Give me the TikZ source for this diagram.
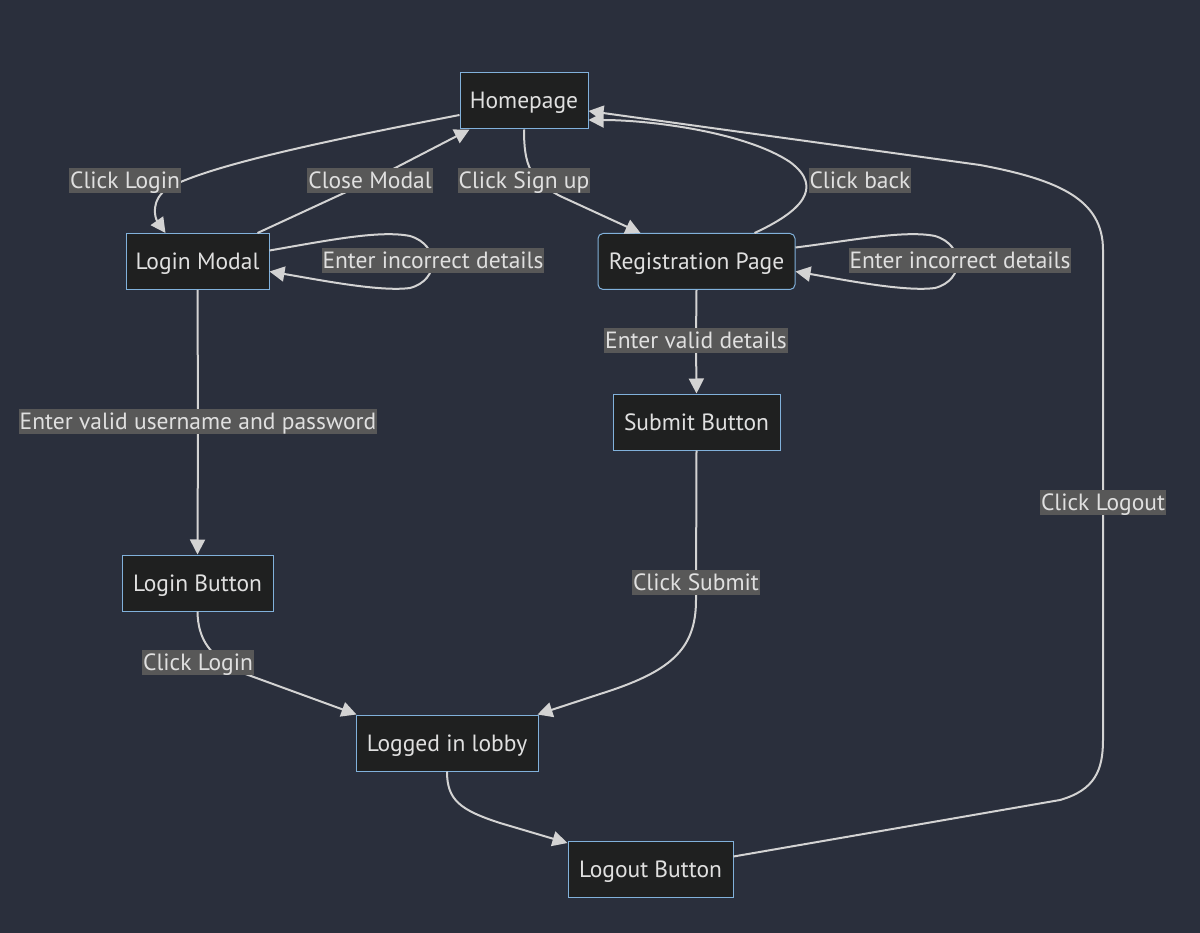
\documentclass[tikz,border=0pt]{standalone}
\usepackage{fontspec}
\setmainfont{PT Sans}
\usetikzlibrary{arrows.meta,calc}
\definecolor{bgc}{HTML}{2A2F3C}
\definecolor{nodefill}{HTML}{1F2020}
\definecolor{nodeborder}{HTML}{81B1DB}
\definecolor{txt}{HTML}{E0E0E0}
\definecolor{lblbg}{HTML}{585858}
\definecolor{linec}{HTML}{D3D3D3}
\tikzset{
  box/.style={draw=nodeborder, fill=nodefill, line width=1pt, minimum height=56pt, inner xsep=8pt, text height=19pt, text depth=3pt, text=txt, font=\fontsize{23.5}{28}\selectfont},
  rbox/.style={box, rounded corners=5pt},
  lbl/.style={fill=lblbg, text=txt, inner xsep=1pt, inner ysep=1.5pt, text height=19pt, text depth=3pt, font=\fontsize{23.5}{28}\selectfont},
  edge/.style={draw=linec, line width=2pt, -{Triangle[length=15pt,width=15pt]}},
}
\begin{document}
\begin{tikzpicture}[x=1pt,y=-1pt]
\fill[bgc] (0,0) rectangle (1200,933);
\useasboundingbox (0,0) rectangle (1200,933);
% nodes
\node[box, minimum width=128pt] (hp) at (524,101) {Homepage};
\node[box, minimum width=143pt] (lm) at (197.5,261.5) {Login Modal};
\node[rbox, minimum width=197pt] (rp) at (696.5,261.5) {Registration Page};
\node[box, minimum width=167pt] (sb) at (696.5,422) {Submit Button};
\node[box, minimum width=151pt] (lb) at (197.5,583) {Login Button};
\node[box, minimum width=182pt] (lobby) at (447,743) {Logged in lobby};
\node[box, minimum width=165pt] (lo) at (650.5,869.5) {Logout Button};
% label positions
\coordinate (l1) at (125,181);
\coordinate (l2) at (370,181);
\coordinate (l3) at (524,181);
\coordinate (l4) at (860,181);
\coordinate (l5) at (433,261);
\coordinate (l6) at (960,261);
\coordinate (l7) at (198,421);
\coordinate (l8) at (696,341);
\coordinate (l9) at (696,582);
\coordinate (l10) at (198,662);
\coordinate (l12) at (1103,502);
% edges
\draw[edge] ($(hp.west)+(0,14)$) .. controls (330,140) and (210,165) .. (168,188) .. controls (150,200) and (155,218) .. ($(lm.north)+(-32,0)$);
\draw[edge] ($(lm.north)+(60,0)$) -- (l2) -- ($(hp.south west)+(10,0)$);
\draw[edge] (hp.south) .. controls (524,165) and (530,180) .. (560,196) -- ($(rp.north)+(-56,0)$);
\draw[edge] ($(rp.north)+(58,0)$) .. controls (800,212) and (825,188) .. (790,162) .. controls (745,132) and (650,120) .. ($(hp.east)+(0,19)$);
\draw[edge] ($(lm.east)+(0,-11)$) .. controls (330,240) and (380,230) .. (410,236) .. controls (440,245) and (440,280) .. (410,288) .. controls (380,292) and (320,280) .. ($(lm.east)+(0,10)$);
\draw[edge] ($(rp.east)+(0,-14)$) .. controls (855,240) and (905,230) .. (935,236) .. controls (965,245) and (965,280) .. (935,288) .. controls (905,292) and (845,280) .. ($(rp.east)+(0,10)$);
\draw[edge] (lm.south) -- (l7) -- (lb.north);
\draw[edge] (rp.south) -- (l8) -- (sb.north);
\draw[edge] (sb.south) -- (696,600) .. controls (696,650) and (670,672) .. (600,694) -- ($(lobby.north east)+(-1,0)$);
\draw[edge] (lb.south) .. controls (198,640) and (210,656) .. (240,672) -- ($(lobby.north west)+(1,0)$);
\draw[edge] (lobby.south) .. controls (447,800) and (460,810) .. (500,823) -- ($(lo.north west)+(0,2)$);
\draw[edge] ($(lo.east)+(0,-13)$) -- (1060,800) .. controls (1095,790) and (1103,770) .. (1103,740) -- (1103,250) .. controls (1103,200) and (1060,180) .. (980,165) -- ($(hp.east)+(0,10)$);
% labels
\node[lbl] at (l1) {Click Login};
\node[lbl] at (l2) {Close Modal};
\node[lbl] at (l3) {Click Sign up};
\node[lbl] at (l4) {Click back};
\node[lbl] at (l5) {Enter incorrect details};
\node[lbl] at (l6) {Enter incorrect details};
\node[lbl] at (l7) {Enter valid username and password};
\node[lbl] at (l8) {Enter valid details};
\node[lbl] at (l9) {Click Submit};
\node[lbl] at (l10) {Click Login};
\node[lbl] at (l12) {Click Logout};
\end{tikzpicture}
\end{document}
